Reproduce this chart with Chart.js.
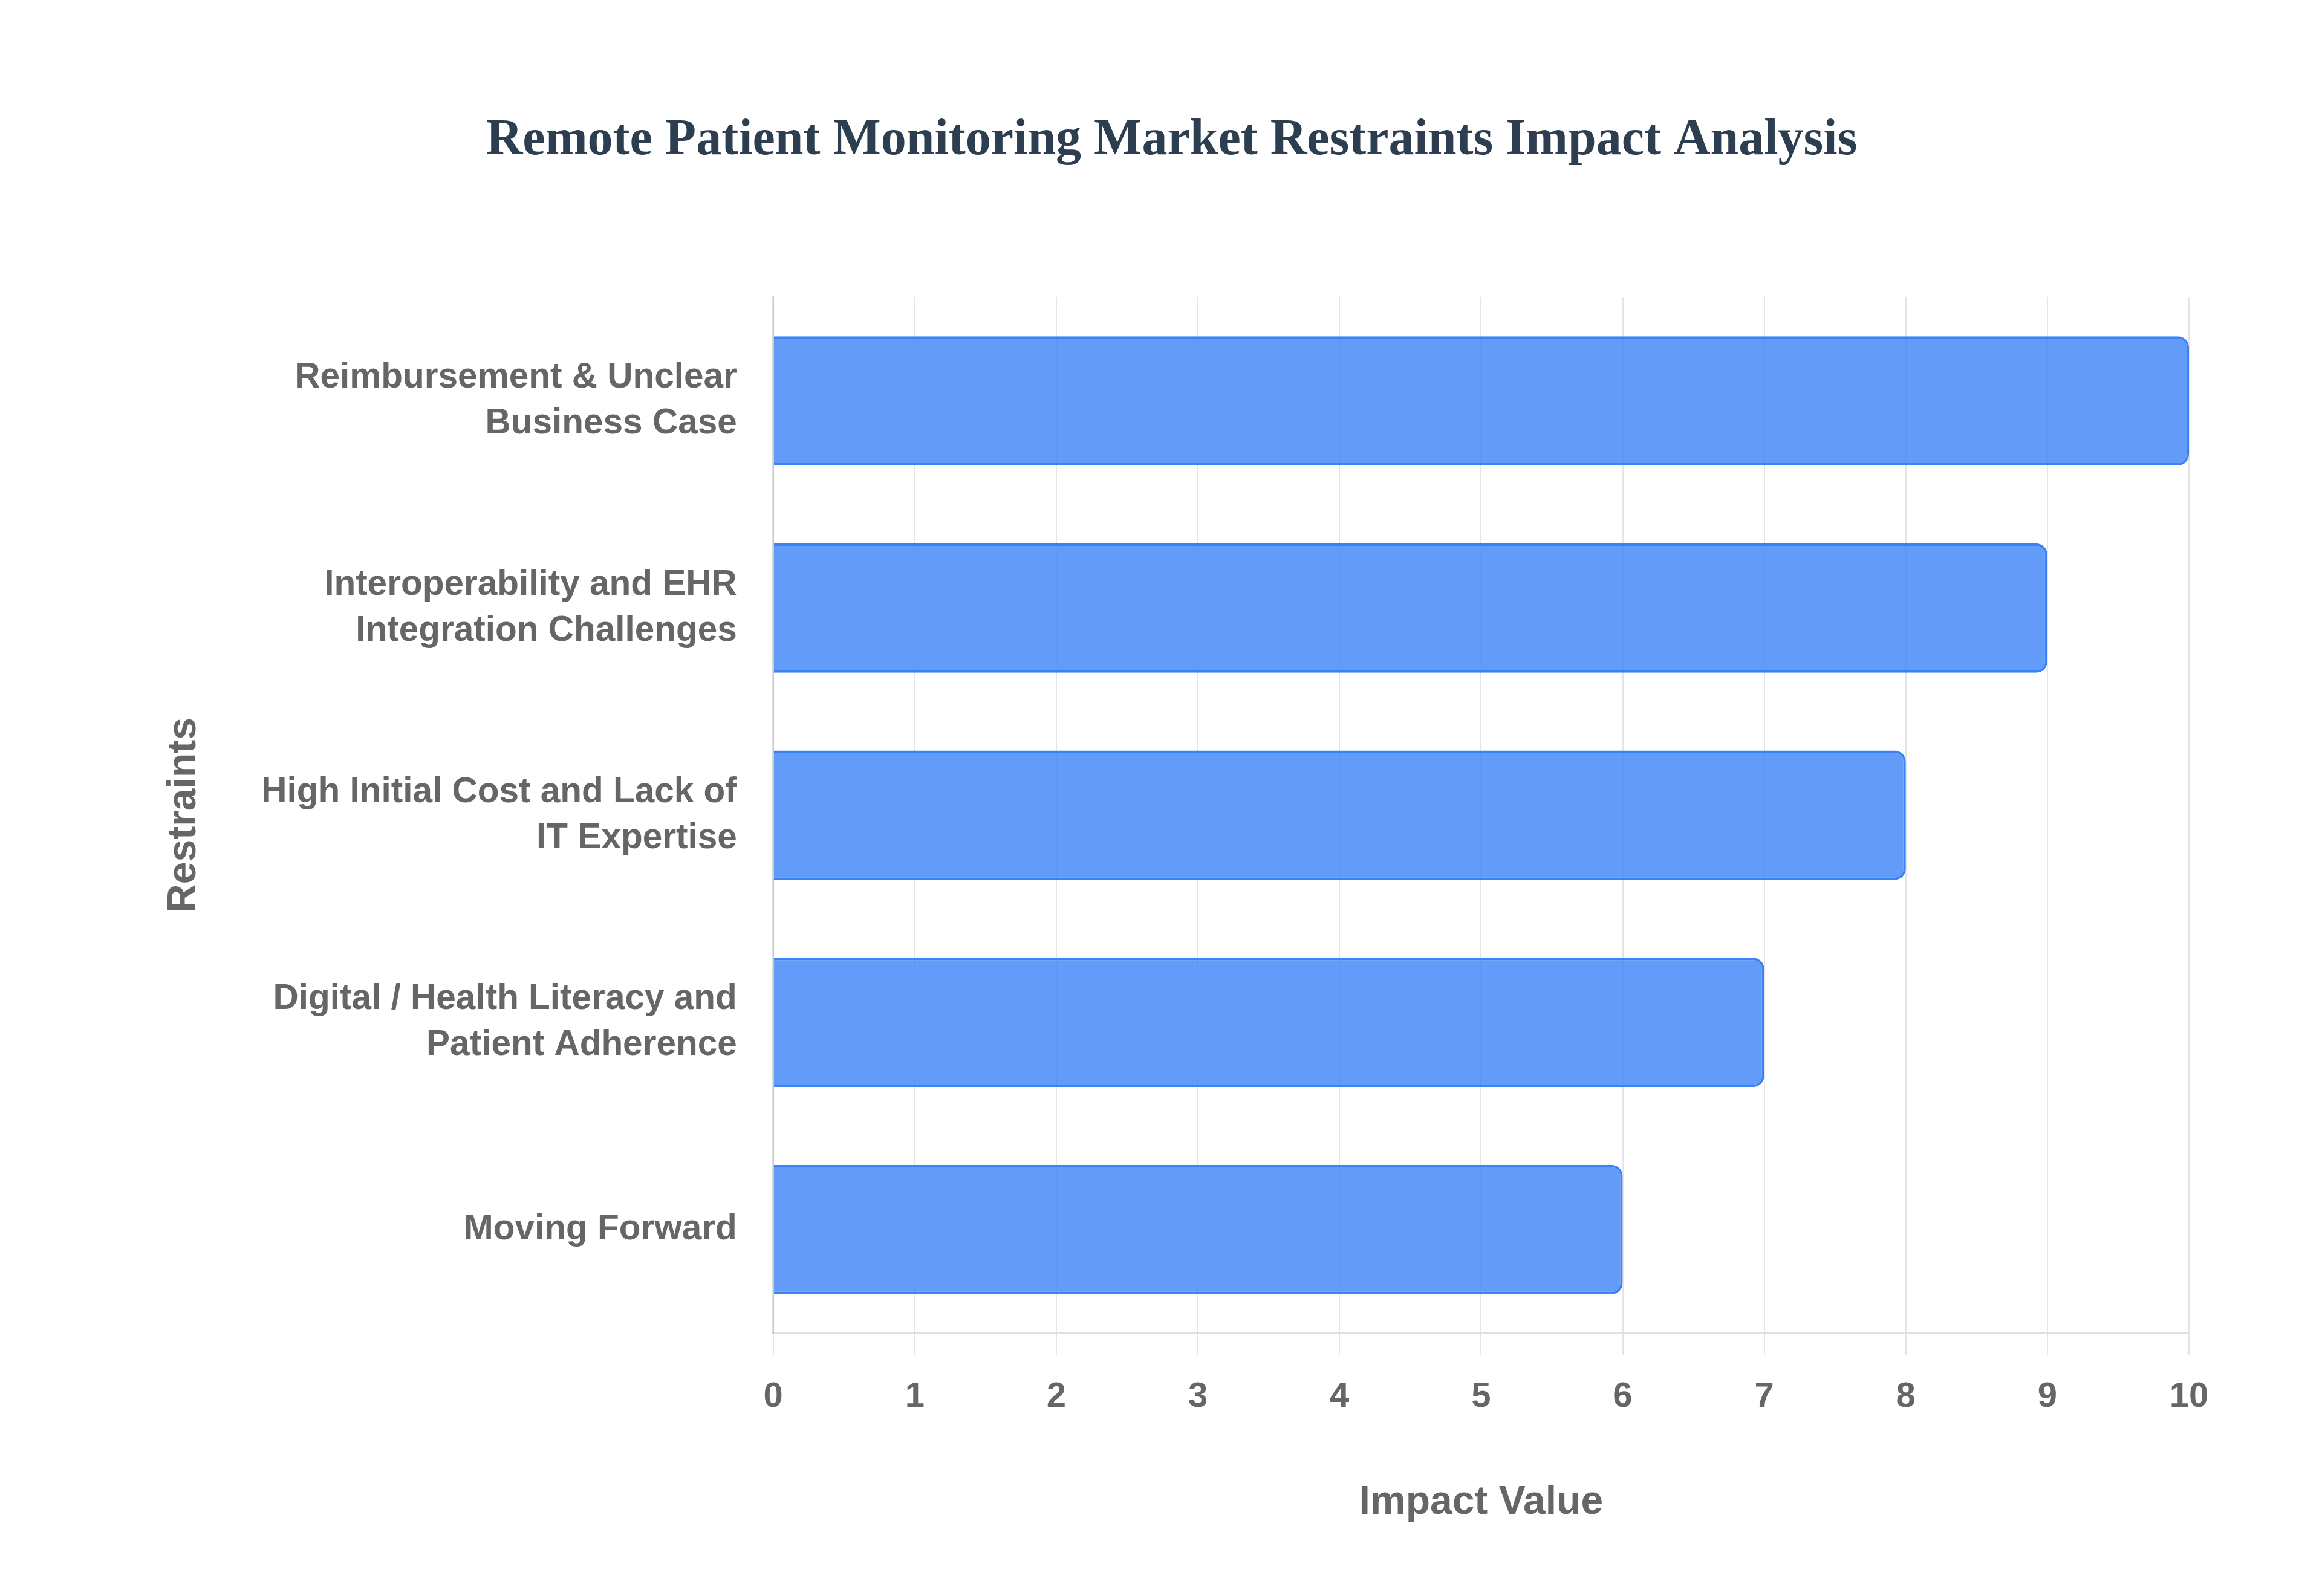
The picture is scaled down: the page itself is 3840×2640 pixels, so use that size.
<!DOCTYPE html>
<html>
<head>
<meta charset="utf-8">
<script src="https://cdn.jsdelivr.net/npm/chart.js@4.4.0/dist/chart.umd.min.js"></script>
<style>
    body { margin: 0; background: #ffffff; }
    #wrap { width: 3840px; height: 2640px; }
</style>
</head>
<body>
<div id="wrap"><canvas id="restraintsChart" width="3840" height="2640"></canvas></div>
<script>
// Chart data
const restraintLabels = [
    ['Reimbursement & Unclear', 'Business Case'],
    ['Interoperability and EHR', 'Integration Challenges'],
    ['High Initial Cost and Lack of', 'IT Expertise'],
    ['Digital / Health Literacy and', 'Patient Adherence'],
    'Moving Forward'
];
const impactValues = [10, 9, 8, 7, 6];
const axisMin = 0;
const axisMax = 10;

const tickGray = '#666666';
const gridGray = 'rgba(0, 0, 0, 0.1)';

const ctx = document.getElementById('restraintsChart').getContext('2d');

new Chart(ctx, {
    type: 'bar',
    data: {
        labels: restraintLabels,
        datasets: [{
            label: 'Impact Value',
            data: impactValues,
            backgroundColor: 'rgba(59, 130, 246, 0.8)',
            borderColor: '#3b82f6',
            borderWidth: 4,
            borderRadius: 18,
            categoryPercentage: 0.8,
            barPercentage: 0.78
        }]
    },
    options: {
        indexAxis: 'y',
        responsive: false,
        devicePixelRatio: 1,
        animation: false,
        layout: {
            padding: { top: 40, right: 220, bottom: 100, left: 255 }
        },
        plugins: {
            legend: { display: false },
            tooltip: { enabled: false },
            title: {
                display: true,
                text: 'Remote Patient Monitoring Market Restraints Impact Analysis',
                color: '#2c3e50',
                font: { family: '"Liberation Serif", "Times New Roman", serif', size: 84, weight: 'bold' },
                padding: { top: 143, bottom: 208 }
            }
        },
        scales: {
            x: {
                min: axisMin,
                max: axisMax,
                ticks: {
                    stepSize: 1,
                    color: tickGray,
                    padding: 35,
                    font: { family: '"Liberation Sans", Arial, sans-serif', size: 58, weight: 'bold' }
                },
                grid: {
                    color: gridGray,
                    lineWidth: 2,
                    tickLength: 36
                },
                border: { color: 'rgba(0, 0, 0, 0.12)', width: 4 },
                title: {
                    display: true,
                    text: 'Impact Value',
                    color: tickGray,
                    font: { family: '"Liberation Sans", Arial, sans-serif', size: 66, weight: 'bold' },
                    padding: { top: 65, bottom: 15 }
                }
            },
            y: {
                ticks: {
                    color: tickGray,
                    padding: 60,
                    font: { family: '"Liberation Sans", Arial, sans-serif', size: 58.5, weight: 'bold', lineHeight: 1.3 }
                },
                grid: { display: false, drawTicks: false },
                border: { color: 'rgba(0, 0, 0, 0.12)', width: 3 },
                title: {
                    display: true,
                    text: 'Restraints',
                    color: tickGray,
                    font: { family: '"Liberation Sans", Arial, sans-serif', size: 66, weight: 'bold' },
                    padding: { top: 10, bottom: 28 }
                }
            }
        }
    }
});
</script>
</body>
</html>
